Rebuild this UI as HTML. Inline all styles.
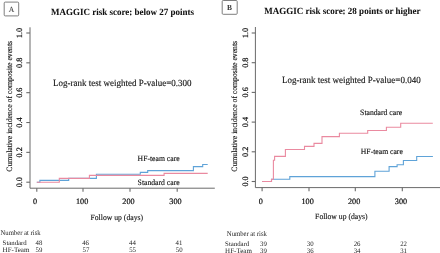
<!DOCTYPE html>
<html><head><meta charset="utf-8"><style>
html,body{margin:0;padding:0;background:#fff;width:440px;height:253px;overflow:hidden}
svg{display:block;filter:blur(0.3px)}
text{text-rendering:geometricPrecision;font-family:"Liberation Serif",serif;fill:#111;stroke:#111;stroke-width:0.12px}
</style></head><body>
<svg width="440" height="253" viewBox="0 0 440 253">
<rect width="440" height="253" fill="#fff"/>
<path d="M30,27.3V188.2H214.8" fill="none" stroke="#6a6a6a" stroke-width="1.0"/>
<path d="M26.3,182.20H30" stroke="#6a6a6a" stroke-width="1.1"/>
<text font-size="8.2" text-anchor="middle" font-weight="normal" style="stroke-width:0.22px;" transform="translate(22.30,182.20) rotate(-90) scale(1.0,1.0)">0.0</text>
<path d="M26.3,152.36H30" stroke="#6a6a6a" stroke-width="1.1"/>
<text font-size="8.2" text-anchor="middle" font-weight="normal" style="stroke-width:0.22px;" transform="translate(22.30,152.36) rotate(-90) scale(1.0,1.0)">0.2</text>
<path d="M26.3,122.52H30" stroke="#6a6a6a" stroke-width="1.1"/>
<text font-size="8.2" text-anchor="middle" font-weight="normal" style="stroke-width:0.22px;" transform="translate(22.30,122.52) rotate(-90) scale(1.0,1.0)">0.4</text>
<path d="M26.3,92.68H30" stroke="#6a6a6a" stroke-width="1.1"/>
<text font-size="8.2" text-anchor="middle" font-weight="normal" style="stroke-width:0.22px;" transform="translate(22.30,92.68) rotate(-90) scale(1.0,1.0)">0.6</text>
<path d="M26.3,62.84H30" stroke="#6a6a6a" stroke-width="1.1"/>
<text font-size="8.2" text-anchor="middle" font-weight="normal" style="stroke-width:0.22px;" transform="translate(22.30,62.84) rotate(-90) scale(1.0,1.0)">0.8</text>
<path d="M26.3,33.00H30" stroke="#6a6a6a" stroke-width="1.1"/>
<text font-size="8.2" text-anchor="middle" font-weight="normal" style="stroke-width:0.22px;" transform="translate(22.30,33.00) rotate(-90) scale(1.0,1.0)">1.0</text>
<path d="M36.8,188.2V191.79999999999998" stroke="#6a6a6a" stroke-width="1.1"/>
<text font-size="8.2" text-anchor="middle" font-weight="normal" style="stroke-width:0.22px;" transform="translate(35.10,204.30) scale(1.0,1.0)">0</text>
<path d="M83,188.2V191.79999999999998" stroke="#6a6a6a" stroke-width="1.1"/>
<text font-size="8.2" text-anchor="middle" font-weight="normal" style="stroke-width:0.22px;" transform="translate(82.10,204.30) scale(1.0,1.0)">100</text>
<path d="M130,188.2V191.79999999999998" stroke="#6a6a6a" stroke-width="1.1"/>
<text font-size="8.2" text-anchor="middle" font-weight="normal" style="stroke-width:0.22px;" transform="translate(128.50,204.30) scale(1.0,1.0)">200</text>
<path d="M177.2,188.2V191.79999999999998" stroke="#6a6a6a" stroke-width="1.1"/>
<text font-size="8.2" text-anchor="middle" font-weight="normal" style="stroke-width:0.22px;" transform="translate(175.50,204.30) scale(1.0,1.0)">300</text>
<path d="M255.4,27V187.6H440" fill="none" stroke="#6a6a6a" stroke-width="1.0"/>
<path d="M251.70000000000002,181.50H255.4" stroke="#6a6a6a" stroke-width="1.1"/>
<text font-size="8.2" text-anchor="middle" font-weight="normal" style="stroke-width:0.22px;" transform="translate(247.50,181.50) rotate(-90) scale(1.0,1.0)">0.0</text>
<path d="M251.70000000000002,151.80H255.4" stroke="#6a6a6a" stroke-width="1.1"/>
<text font-size="8.2" text-anchor="middle" font-weight="normal" style="stroke-width:0.22px;" transform="translate(247.50,151.80) rotate(-90) scale(1.0,1.0)">0.2</text>
<path d="M251.70000000000002,122.10H255.4" stroke="#6a6a6a" stroke-width="1.1"/>
<text font-size="8.2" text-anchor="middle" font-weight="normal" style="stroke-width:0.22px;" transform="translate(247.50,122.10) rotate(-90) scale(1.0,1.0)">0.4</text>
<path d="M251.70000000000002,92.40H255.4" stroke="#6a6a6a" stroke-width="1.1"/>
<text font-size="8.2" text-anchor="middle" font-weight="normal" style="stroke-width:0.22px;" transform="translate(247.50,92.40) rotate(-90) scale(1.0,1.0)">0.6</text>
<path d="M251.70000000000002,62.70H255.4" stroke="#6a6a6a" stroke-width="1.1"/>
<text font-size="8.2" text-anchor="middle" font-weight="normal" style="stroke-width:0.22px;" transform="translate(247.50,62.70) rotate(-90) scale(1.0,1.0)">0.8</text>
<path d="M251.70000000000002,33.00H255.4" stroke="#6a6a6a" stroke-width="1.1"/>
<text font-size="8.2" text-anchor="middle" font-weight="normal" style="stroke-width:0.22px;" transform="translate(247.50,33.00) rotate(-90) scale(1.0,1.0)">1.0</text>
<path d="M262.1,187.6V191.2" stroke="#6a6a6a" stroke-width="1.1"/>
<text font-size="8.2" text-anchor="middle" font-weight="normal" style="stroke-width:0.22px;" transform="translate(260.70,203.70) scale(1.0,1.0)">0</text>
<path d="M309,187.6V191.2" stroke="#6a6a6a" stroke-width="1.1"/>
<text font-size="8.2" text-anchor="middle" font-weight="normal" style="stroke-width:0.22px;" transform="translate(307.60,203.70) scale(1.0,1.0)">100</text>
<path d="M355.3,187.6V191.2" stroke="#6a6a6a" stroke-width="1.1"/>
<text font-size="8.2" text-anchor="middle" font-weight="normal" style="stroke-width:0.22px;" transform="translate(354.10,203.70) scale(1.0,1.0)">200</text>
<path d="M402.3,187.6V191.2" stroke="#6a6a6a" stroke-width="1.1"/>
<text font-size="8.2" text-anchor="middle" font-weight="normal" style="stroke-width:0.22px;" transform="translate(401.00,203.70) scale(1.0,1.0)">300</text>

<polyline points="36.8,182.2 39.9,182.2 39.9,180.4 68.7,180.4 68.7,178.4 96.4,178.4 96.4,174.2 140.3,174.2 140.3,172.4 147.7,172.4 147.7,170.6 193.4,170.6 193.4,166.6 202.7,166.6 202.7,164.5 207.7,164.5" fill="none" stroke="#5fa3d8" stroke-width="1.1"/>
<polyline points="36.8,182.2 59.3,182.2 59.3,178.4 89.4,178.4 89.4,175.4 164.1,175.4 164.1,173.4 207.7,173.4" fill="none" stroke="#ea8aa0" stroke-width="1.1"/>
<polyline points="262.1,181.5 271.5,181.5 271.5,179.3 289.8,179.3 289.8,176.6 374.9,176.6 374.9,171.3 389.1,171.3 389.1,166.6 397.1,166.6 397.1,164.7 403.4,164.7 403.4,160.5 416.7,160.5 416.7,156.5 432.9,156.5" fill="none" stroke="#5fa3d8" stroke-width="1.1"/>
<polyline points="262.1,181.5 271.5,181.5 271.5,179.3 273.4,179.3 273.4,160.3 274.6,160.3 274.6,156.4 285.4,156.4 285.4,149.5 304.5,149.5 304.5,146.4 314,146.4 314,143.4 322,143.4 322,136.6 339.4,136.6 339.4,133.2 367.7,133.2 367.7,130.5 386.4,130.5 386.4,127.2 400.7,127.2 400.7,123.3 432.8,123.3" fill="none" stroke="#ea8aa0" stroke-width="1.1"/>

<rect x="4.2" y="2.1" width="14.5" height="13.8" rx="1" fill="none" stroke="#707070" stroke-width="0.9"/>
<text font-size="7.6" text-anchor="middle" font-weight="normal" style="stroke-width:0.05px;fill:#333;stroke:#333;" transform="translate(11.40,11.90) scale(1.0,1.05)">A</text>
<rect x="222.2" y="0.5" width="15.0" height="13.8" rx="1" fill="none" stroke="#707070" stroke-width="0.9"/>
<text font-size="7.4" text-anchor="middle" font-weight="bold" style="stroke-width:0px;fill:#333;stroke:#333;" transform="translate(229.50,10.30) scale(1.0,1.05)">B</text>
<text font-size="9" text-anchor="start" font-weight="bold" style="stroke-width:0.05px;" transform="translate(51.00,14.80) scale(1.0,1.05)">MAGGIC risk score: below 27 points</text>
<text font-size="9" text-anchor="start" font-weight="bold" style="stroke-width:0.05px;" transform="translate(264.30,14.30) scale(1.0,1.05)">MAGGIC risk score: 28 points or higher</text>
<text font-size="9" text-anchor="start" font-weight="normal" transform="translate(53.00,85.50) scale(1.0,1.05)">Log-rank test weighted P-value=0.300</text>
<text font-size="9" text-anchor="start" font-weight="normal" transform="translate(282.10,82.70) scale(1.0,1.05)">Log-rank test weighted P-value=0.040</text>
<text font-size="7.7" text-anchor="start" font-weight="normal" transform="translate(137.60,160.80) scale(1.0,1.05)">HF-team care</text>
<text font-size="7.7" text-anchor="start" font-weight="normal" transform="translate(137.60,185.20) scale(1.0,1.05)">Standard care</text>
<text font-size="7.7" text-anchor="start" font-weight="normal" transform="translate(360.80,154.20) scale(1.0,1.05)">HF-team care</text>
<text font-size="7.7" text-anchor="start" font-weight="normal" transform="translate(360.10,115.10) scale(1.0,1.05)">Standard care</text>
<text font-size="7.7" text-anchor="start" font-weight="normal" transform="translate(90.50,219.80) scale(1.0,1.05)">Follow up (days)</text>
<text font-size="7.7" text-anchor="start" font-weight="normal" transform="translate(315.10,218.80) scale(1.0,1.05)">Follow up (days)</text>
<text font-size="7.7" text-anchor="middle" font-weight="normal" transform="translate(11.90,106.30) rotate(-90) scale(1.0,1.05)">Cumulative incidence of composite events</text>
<text font-size="7.7" text-anchor="middle" font-weight="normal" transform="translate(237.30,106.30) rotate(-90) scale(1.0,1.05)">Cumulative incidence of composite events</text>
<text font-size="7.2" text-anchor="start" font-weight="normal" style="stroke-width:0.0px;fill:#222;stroke:#222;" transform="translate(0.50,234.70) scale(0.93,1.0)">Number at risk</text>
<text font-size="6.8" text-anchor="start" font-weight="normal" style="stroke-width:0.0px;fill:#222;stroke:#222;" transform="translate(2.60,245.00) scale(1.0,1.0)">Standard</text>
<text font-size="7.0" text-anchor="start" font-weight="normal" style="stroke-width:0.0px;fill:#222;stroke:#222;" transform="translate(2.60,252.20) scale(1.0,1.0)">HF-Team</text>
<text font-size="6.8" text-anchor="start" font-weight="normal" style="stroke-width:0.0px;fill:#222;stroke:#222;" transform="translate(35.50,245.00) scale(1.0,1.0)">48</text>
<text font-size="6.8" text-anchor="start" font-weight="normal" style="stroke-width:0.0px;fill:#222;stroke:#222;" transform="translate(82.20,245.00) scale(1.0,1.0)">46</text>
<text font-size="6.8" text-anchor="start" font-weight="normal" style="stroke-width:0.0px;fill:#222;stroke:#222;" transform="translate(129.00,245.00) scale(1.0,1.0)">44</text>
<text font-size="6.8" text-anchor="start" font-weight="normal" style="stroke-width:0.0px;fill:#222;stroke:#222;" transform="translate(175.60,245.00) scale(1.0,1.0)">41</text>
<text font-size="6.8" text-anchor="start" font-weight="normal" style="stroke-width:0.0px;fill:#222;stroke:#222;" transform="translate(35.50,252.20) scale(1.0,1.0)">59</text>
<text font-size="6.8" text-anchor="start" font-weight="normal" style="stroke-width:0.0px;fill:#222;stroke:#222;" transform="translate(82.50,252.20) scale(1.0,1.0)">57</text>
<text font-size="6.8" text-anchor="start" font-weight="normal" style="stroke-width:0.0px;fill:#222;stroke:#222;" transform="translate(129.20,252.20) scale(1.0,1.0)">55</text>
<text font-size="6.8" text-anchor="start" font-weight="normal" style="stroke-width:0.0px;fill:#222;stroke:#222;" transform="translate(175.80,252.20) scale(1.0,1.0)">50</text>
<text font-size="7.2" text-anchor="start" font-weight="normal" style="stroke-width:0.0px;fill:#222;stroke:#222;" transform="translate(226.80,236.00) scale(0.93,1.0)">Number at risk</text>
<text font-size="6.8" text-anchor="start" font-weight="normal" style="stroke-width:0.0px;fill:#222;stroke:#222;" transform="translate(225.10,246.00) scale(1.0,1.0)">Standard</text>
<text font-size="7.0" text-anchor="start" font-weight="normal" style="stroke-width:0.0px;fill:#222;stroke:#222;" transform="translate(225.10,253.20) scale(1.0,1.0)">HF-Team</text>
<text font-size="6.8" text-anchor="start" font-weight="normal" style="stroke-width:0.0px;fill:#222;stroke:#222;" transform="translate(260.00,246.00) scale(1.0,1.0)">39</text>
<text font-size="6.8" text-anchor="start" font-weight="normal" style="stroke-width:0.0px;fill:#222;stroke:#222;" transform="translate(306.80,246.00) scale(1.0,1.0)">30</text>
<text font-size="6.8" text-anchor="start" font-weight="normal" style="stroke-width:0.0px;fill:#222;stroke:#222;" transform="translate(353.70,246.00) scale(1.0,1.0)">26</text>
<text font-size="6.8" text-anchor="start" font-weight="normal" style="stroke-width:0.0px;fill:#222;stroke:#222;" transform="translate(400.20,246.00) scale(1.0,1.0)">22</text>
<text font-size="6.8" text-anchor="start" font-weight="normal" style="stroke-width:0.0px;fill:#222;stroke:#222;" transform="translate(260.00,253.20) scale(1.0,1.0)">39</text>
<text font-size="6.8" text-anchor="start" font-weight="normal" style="stroke-width:0.0px;fill:#222;stroke:#222;" transform="translate(306.80,253.20) scale(1.0,1.0)">36</text>
<text font-size="6.8" text-anchor="start" font-weight="normal" style="stroke-width:0.0px;fill:#222;stroke:#222;" transform="translate(353.70,253.20) scale(1.0,1.0)">34</text>
<text font-size="6.8" text-anchor="start" font-weight="normal" style="stroke-width:0.0px;fill:#222;stroke:#222;" transform="translate(400.20,253.20) scale(1.0,1.0)">31</text>
</svg>
</body></html>
